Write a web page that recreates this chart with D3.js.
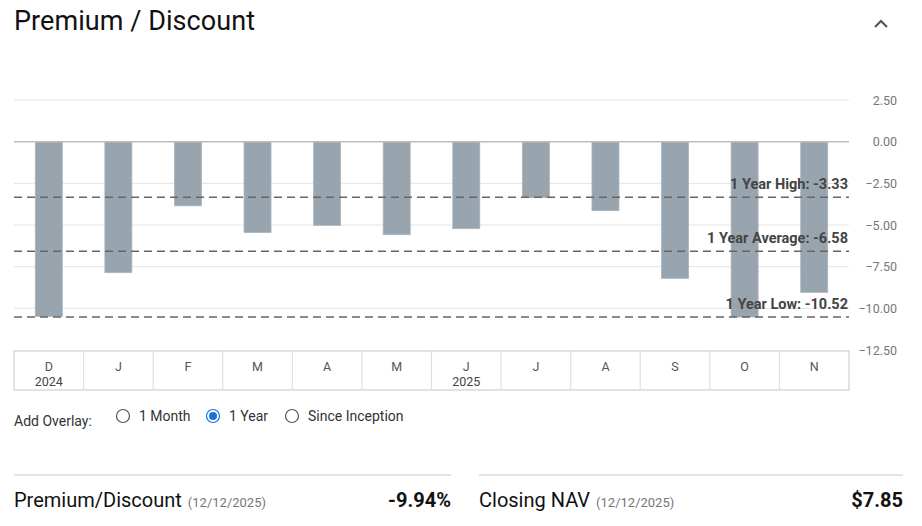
<!DOCTYPE html>
<html>
<head>
<meta charset="utf-8">
<script src="https://cdn.jsdelivr.net/npm/d3@7"></script>
<style>
  body { margin: 0; background: #fff; font-family: Roboto, "Liberation Sans", Arial, sans-serif; }
</style>
</head>
<body>
<div id="chart"></div>
<script>
// data
const months = ["D", "J", "F", "M", "A", "M", "J", "J", "A", "S", "O", "N"];
const years = ["2024", "", "", "", "", "", "2025", "", "", "", "", ""];
const premium = [-10.48, -7.86, -3.85, -5.45, -5.02, -5.58, -5.22, -3.36, -4.13, -8.2, -10.52, -9.04];
const yTicks = [2.5, 0, -2.5, -5, -7.5, -10, -12.5];
const refLines = [
  { label: "1 Year High: -3.33", value: -3.33 },
  { label: "1 Year Average: -6.58", value: -6.58 },
  { label: "1 Year Low: -10.52", value: -10.52 }
];
const overlays = ["1 Month", "1 Year", "Since Inception"];

const W = 922, H = 526;
const margin = { top: 100, left: 14, right: 73 },
    plotW = W - margin.left - margin.right,
    plotBottom = 350;

const svg = d3.select("#chart")
    .append("svg")
    .attr("width", W)
    .attr("height", H);

// title
svg.append("text")
    .attr("x", 14).attr("y", 30)
    .attr("font-size", 27).attr("fill", "#111")
    .attr("textLength", 241)
    .text("Premium / Discount");

// chevron
svg.append("path")
    .attr("d", "M875,27 L881,21 L887,27")
    .attr("fill", "none").attr("stroke", "#555").attr("stroke-width", 2.2);

const x = d3.scaleBand()
    .domain(d3.range(months.length))
    .range([margin.left, margin.left + plotW]);

const y = d3.scaleLinear()
    .domain([2.5, -12.5])
    .range([margin.top, plotBottom]);

// gridlines
svg.append("g")
    .selectAll("line")
    .data(yTicks.filter(d => d !== 0 && d !== -12.5))
    .join("line")
    .attr("x1", margin.left).attr("x2", margin.left + plotW)
    .attr("y1", d => y(d)).attr("y2", d => y(d))
    .attr("stroke", "#e4e4e4").attr("stroke-width", 1);

// y axis on the right
const yAxis = svg.append("g")
    .attr("transform", `translate(${W - 25},0)`)
    .call(d3.axisRight(y).tickValues(yTicks).tickSize(0).tickFormat(d3.format(".2f")));
yAxis.select(".domain").remove();
yAxis.selectAll("text")
    .attr("x", 0).attr("text-anchor", "end")
    .attr("font-family", "Roboto, sans-serif")
    .attr("font-size", 12.5).attr("fill", "#777")
    .text(d => d3.format(".2f")(d).replace("-", "\u2212"));

// bars
svg.append("g")
    .selectAll("rect")
    .data(premium)
    .join("rect")
    .attr("x", (d, i) => x(i) + x.bandwidth() / 2 - 13.5)
    .attr("width", 27)
    .attr("y", y(0))
    .attr("height", d => y(d) - y(0))
    .attr("fill", "#98a4ae")
    .attr("stroke", "#aab4bd").attr("stroke-width", 0.8);

// zero line
svg.append("line")
    .attr("x1", margin.left).attr("x2", margin.left + plotW)
    .attr("y1", y(0)).attr("y2", y(0))
    .attr("stroke", "#bdbdbd").attr("stroke-width", 1.5);

// reference lines
const ref = svg.append("g");
ref.selectAll("line")
    .data(refLines)
    .join("line")
    .attr("x1", margin.left).attr("x2", margin.left + plotW)
    .attr("y1", d => y(d.value)).attr("y2", d => y(d.value))
    .attr("stroke", "#666").attr("stroke-width", 1.5)
    .attr("stroke-dasharray", "8,5");
ref.selectAll("text")
    .data(refLines)
    .join("text")
    .attr("x", margin.left + plotW - 1)
    .attr("y", d => y(d.value) - 8)
    .attr("text-anchor", "end")
    .attr("font-size", 14.5).attr("font-weight", "bold")
    .attr("fill", "#444")
    .text(d => d.label);

// x axis box
const boxTop = plotBottom + 1, boxH = 39;
const xg = svg.append("g");
xg.append("rect")
    .attr("x", margin.left).attr("y", boxTop)
    .attr("width", plotW).attr("height", boxH)
    .attr("fill", "none").attr("stroke", "#d9d9d9").attr("stroke-width", 1.5);
xg.selectAll("line.sep")
    .data(d3.range(1, months.length))
    .join("line")
    .attr("class", "sep")
    .attr("x1", i => x(i)).attr("x2", i => x(i))
    .attr("y1", boxTop).attr("y2", boxTop + boxH)
    .attr("stroke", "#e0e0e0").attr("stroke-width", 1.2);
xg.selectAll("text.m")
    .data(months)
    .join("text")
    .attr("class", "m")
    .attr("x", (d, i) => x(i) + x.bandwidth() / 2)
    .attr("y", boxTop + 20)
    .attr("text-anchor", "middle")
    .attr("font-size", 12.5).attr("fill", "#555")
    .text(d => d);
xg.selectAll("text.yr")
    .data(years)
    .join("text")
    .attr("class", "yr")
    .attr("x", (d, i) => x(i) + x.bandwidth() / 2)
    .attr("y", boxTop + 35)
    .attr("text-anchor", "middle")
    .attr("font-size", 12.5).attr("fill", "#444")
    .text(d => d);

// overlay radios
const ov = svg.append("g").attr("font-family", "Roboto, sans-serif");
ov.append("text").attr("x", 14).attr("y", 426)
    .attr("font-size", 14).attr("fill", "#333").text("Add Overlay:");
const radioX = [123, 213, 292];
overlays.forEach((o, i) => {
    ov.append("circle").attr("cx", radioX[i]).attr("cy", 416).attr("r", 6.5)
        .attr("fill", "#fff")
        .attr("stroke", i === 1 ? "#1a73d8" : "#555").attr("stroke-width", 1.2);
    if (i === 1) {
        ov.append("circle").attr("cx", radioX[i]).attr("cy", 416).attr("r", 4)
            .attr("fill", "#1a73d8");
    }
    ov.append("text").attr("x", radioX[i] + 16).attr("y", 421)
        .attr("font-size", 14).attr("fill", "#333").text(o);
});

// bottom stats
const stats = [
    { name: "Premium/Discount", date: "(12/12/2025)", value: "-9.94%", x0: 14, x1: 451 },
    { name: "Closing NAV", date: "(12/12/2025)", value: "$7.85", x0: 479, x1: 903 }
];
stats.forEach(s => {
    svg.append("line").attr("x1", s.x0).attr("x2", s.x1)
        .attr("y1", 475).attr("y2", 475)
        .attr("stroke", "#dcdcdc").attr("stroke-width", 1.5);
    const t = svg.append("text").attr("x", s.x0).attr("y", 507);
    t.append("tspan").attr("font-size", 20).attr("fill", "#111").text(s.name);
    t.append("tspan").attr("dx", 6).attr("font-size", 13).attr("fill", "#777").text(s.date);
    svg.append("text").attr("x", s.x1).attr("y", 507)
        .attr("text-anchor", "end")
        .attr("font-size", 20).attr("font-weight", "bold").attr("fill", "#111")
        .text(s.value);
});
</script>
</body>
</html>
